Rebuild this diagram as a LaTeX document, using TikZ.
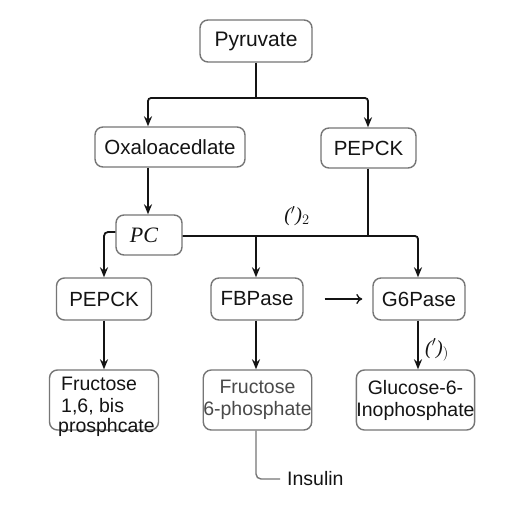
\documentclass[tikz,border=0pt]{standalone}
\usepackage{fontspec}
\setmainfont{Liberation Sans}
\newfontfamily\seriffont{Liberation Serif}
\usetikzlibrary{arrows.meta}
\definecolor{ink}{HTML}{141414}
\definecolor{boxline}{HTML}{767676}
\definecolor{softink}{HTML}{4A4A4A}
\begin{document}
\begin{tikzpicture}[x=1pt,y=-1pt,
  box/.style={draw=boxline, line width=1.4pt, rounded corners=8pt, fill=white, text=ink, inner sep=0pt, align=center},
  big/.style={font=\fontsize{20.5}{24}\selectfont},
  small/.style={font=\fontsize{19.5}{22}\selectfont},
  conn/.style={draw=ink, line width=1.8pt},
  arr/.style={conn, -{Stealth[length=10pt,width=8pt]}},
  lbl/.style={text=ink, font=\fontsize{20}{22}\seriffont\itshape, inner sep=0pt}]
\useasboundingbox[fill=white] (0,0) rectangle (512,512);

% top
\node[box,font=\fontsize{21}{24}\selectfont,minimum width=112pt,minimum height=42pt] (pyr) at (256,41) {Pyruvate};
\node[box,big,minimum width=150pt,minimum height=40pt] (oxa) at (170,147) {Oxaloacedlate};
\node[box,big,minimum width=95pt,minimum height=40pt] (pepA) at (368.5,148) {PEPCK};
\node[box,minimum width=66pt,minimum height=40pt,font=\fontsize{22}{24}\seriffont\itshape] (pc) at (149,235) {PC\hspace*{10pt}};

% middle row
\node[box,big,minimum width=95pt,minimum height=42pt] (pepB) at (104,299) {PEPCK};
\node[box,big,minimum width=92pt,minimum height=42pt] (fbp) at (257,299) {FBPase};
\node[box,big,minimum width=92pt,minimum height=42pt] (g6p) at (419,299) {G6Pase};

% bottom row
\node[box,minimum width=109pt,minimum height=60pt] (f16) at (104,400) {};
\node[text=ink,small,align=left,anchor=north west,inner sep=0pt] (f16t) at (58,377)
  {\hspace*{3pt}Fructose\\\hspace*{3pt}1,6, bis\\[-2pt]prosphcate};
\node[box,small,minimum width=107pt,minimum height=60pt,text=softink] (f6p) at (257.5,400) {Fructose\\6-phosphate};
\node[box,small,minimum width=115pt,minimum height=60pt] (glc) at (415.5,400) {Glucose-6-\\Inophosphate};

% labels
\node[lbl] (l2) at (297,216) {($'$)$_{2}$};
\node[lbl] (l1) at (437,350) {($'$)$_{)}$};
\node[text=ink,small,anchor=west,inner sep=0pt] (ins) at (287,479) {Insulin};

% connectors
\coordinate (j1) at (256,98);
\draw[conn] (pyr.south) -- (j1);
\draw[arr,rounded corners=3pt] (j1) -| ([xshift=-22pt]oxa.north);
\draw[arr,rounded corners=3pt] (j1) -| ([xshift=-0.5pt]pepA.north);
\draw[arr] ([xshift=-22pt]oxa.south) -- ([xshift=-1pt]pc.north);

\coordinate (j2) at (368,236);
\coordinate (j3) at (256,236);
\draw[conn] ([xshift=-0.5pt]pepA.south) -- (j2);
\draw[arr,rounded corners=3pt] (pc.east |- j2) -| ([xshift=-1pt]g6p.north);
\draw[arr] (j3) -- ([xshift=-1pt]fbp.north);
\draw[arr,rounded corners=4pt] ([yshift=3pt]pc.west) -| (pepB.north);

\draw[draw=ink, line width=1.3pt, -{To[length=6pt,width=10pt]}] ([xshift=21pt]fbp.east) -- ([xshift=-10pt]g6p.west);

\draw[arr] (pepB.south) -- (f16.north);
\draw[arr] ([xshift=-1pt]fbp.south) -- ([xshift=-1.5pt]f6p.north);
\draw[arr] ([xshift=-1pt]g6p.south) -- ([xshift=2.5pt]glc.north);

\draw[draw=boxline, line width=1.4pt, rounded corners=5pt] ([xshift=-1.5pt]f6p.south) |- ([xshift=-7pt]ins.west);
\end{tikzpicture}
\end{document}
